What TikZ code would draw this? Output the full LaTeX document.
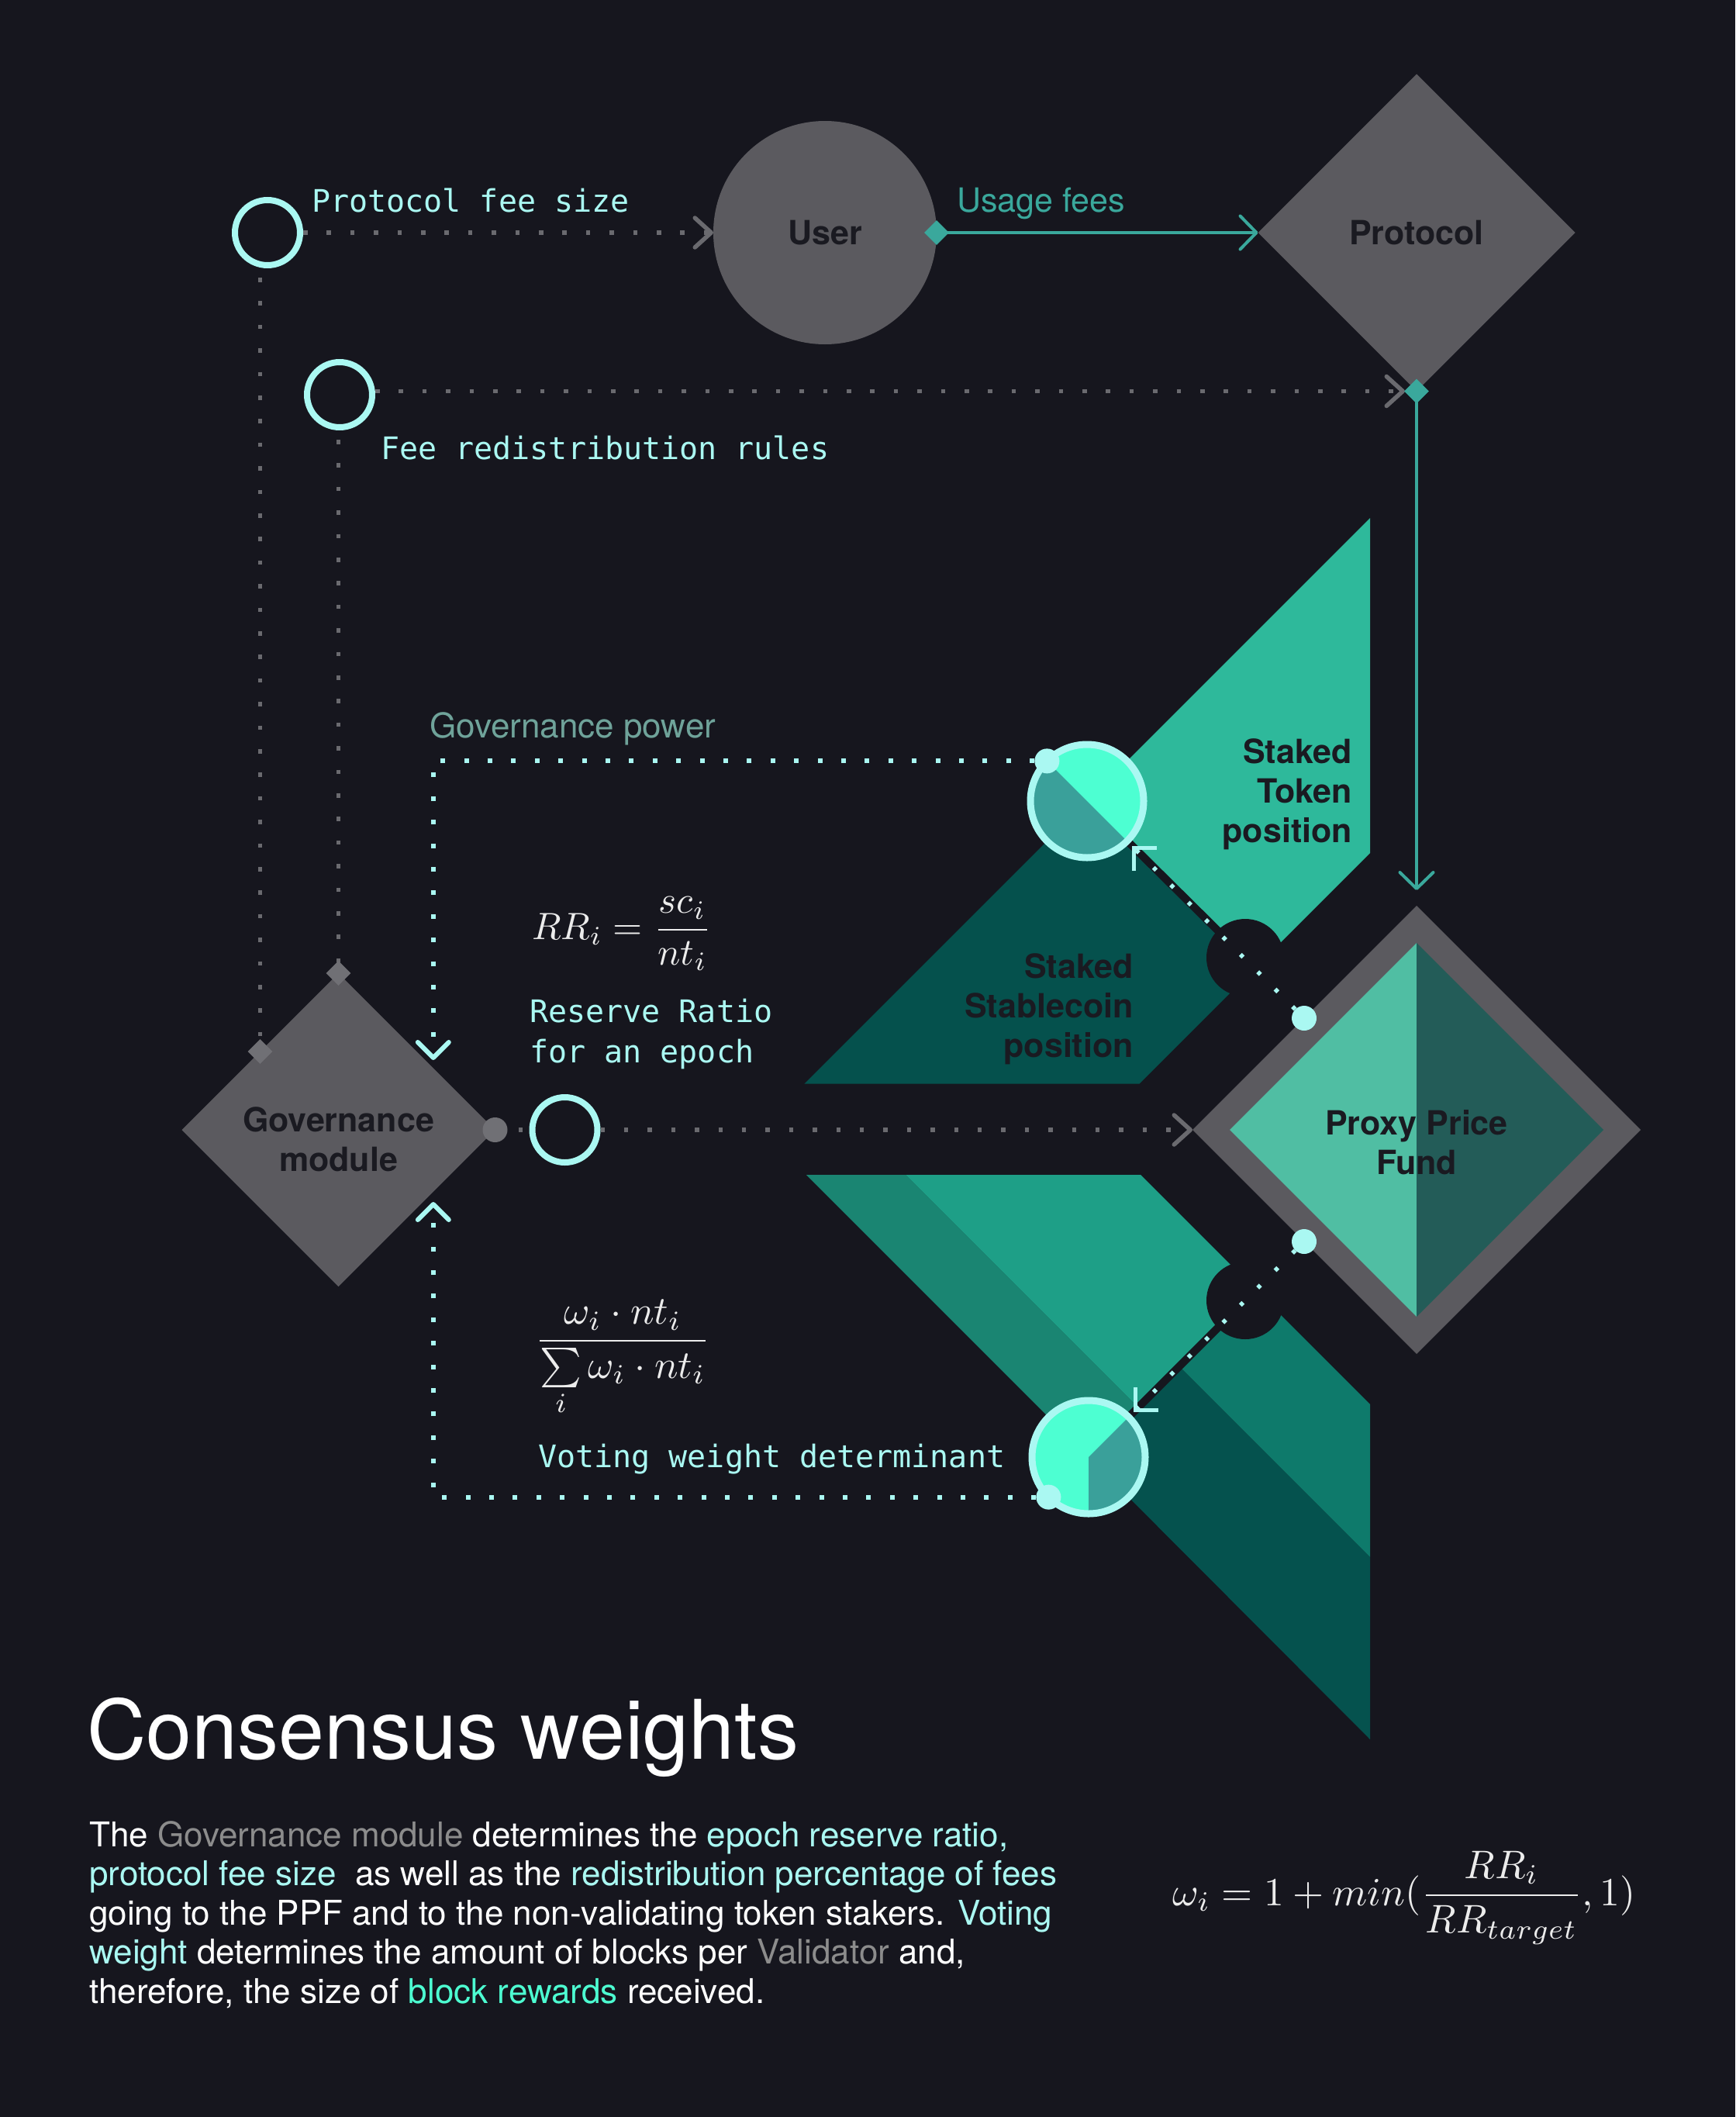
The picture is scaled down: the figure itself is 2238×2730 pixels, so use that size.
\documentclass[tikz,border=0pt]{standalone}
\usepackage[no-math]{fontspec}
\setmainfont{TeX Gyre Heros}
\newfontfamily\monof{DejaVu Sans Mono}
\usepackage{graphicx}
\usetikzlibrary{arrows.meta,shapes.geometric,calc}
\definecolor{bgc}{RGB}{22,22,30}
\definecolor{boxgray}{RGB}{91,90,95}
\definecolor{markgray}{RGB}{112,112,117}
\definecolor{dotgray}{RGB}{106,106,111}
\definecolor{darktxt}{RGB}{26,26,33}
\definecolor{cyanc}{RGB}{170,248,242}
\definecolor{tealc}{RGB}{58,168,156}
\definecolor{mintc}{RGB}{77,255,210}
\definecolor{halfteal}{RGB}{58,160,154}
\definecolor{tokenc}{RGB}{46,185,155}
\definecolor{stablec}{RGB}{5,81,77}
\definecolor{lowA}{RGB}{26,133,114}
\definecolor{lowB}{RGB}{30,159,135}
\definecolor{lowC}{RGB}{5,82,78}
\definecolor{lowD}{RGB}{14,122,107}
\definecolor{ppfL}{RGB}{80,190,163}
\definecolor{ppfR}{RGB}{35,92,88}
\definecolor{gptxt}{RGB}{111,163,154}
\definecolor{bodygray}{RGB}{140,140,140}
\definecolor{mathc}{RGB}{236,236,236}
\begin{document}
\begin{tikzpicture}[x=1pt,y=-1pt,
  graydot/.style={draw=dotgray,line width=5.5pt,dash pattern=on 5.5pt off 24.9pt},
  cyandot/.style={draw=cyanc,line width=6pt,dash pattern=on 6pt off 24.4pt},
  diagdot/.style={draw=cyanc,line width=5.5pt,dash pattern=on 5pt off 26.7pt},
  chevg/.style={-{Straight Barb[length=21pt,width=38pt,round]}},
  chevc/.style={-{Straight Barb[length=20pt,width=40pt,round]}},
  chevt/.style={-{Straight Barb[length=21pt,width=43pt,round]}},
  cornertip/.style={-{Straight Barb[length=21pt,width=42pt,line width=5pt]}},
  tealline/.style={draw=tealc,line width=4pt},
  ringnode/.style={circle,draw=cyanc,line width=8pt,fill=bgc,minimum size=84pt,inner sep=0pt,outer sep=4pt},
  bigring/.style={circle,draw=cyanc,line width=9pt,minimum size=146pt,inner sep=0pt,outer sep=8.5pt},
  dotnode/.style={circle,fill=cyanc,minimum size=32pt,inner sep=0pt},
  boldlab/.style={font=\bfseries\fontsize{43}{51}\selectfont,text=darktxt,inner sep=0pt},
  monolab/.style={font=\monof\fontsize{40}{52}\selectfont,text=cyanc,inner sep=0pt,anchor=base west},
  bodytxt/.style={font=\fontsize{44}{50.5}\selectfont,text=white,inner sep=0pt,anchor=base west},
  mathlab/.style={text=mathc,inner sep=0pt,anchor=base west},
  tmark/.style={diamond,fill=tealc,minimum size=32pt,inner sep=0pt},
  gmark/.style={diamond,fill=markgray,minimum size=32pt,inner sep=0pt},
  cutout/.style={circle,fill=bgc,minimum size=100pt,inner sep=0pt},
]
\fill[bgc] (0,0) rectangle (2238,2730);
\useasboundingbox (0,0) rectangle (2238,2730);

% ---- green position shapes (upper)
\fill[tokenc] (1767,668) -- (1767,1100) -- (1618,1249) -- (1402,1033) -- cycle;
\fill[stablec] (1402,1033) -- (1618,1249) -- (1469.4,1397.6) -- (1037.4,1397.6) -- cycle;
% ---- green shapes (lower)
\fill[lowA] (1040,1515) -- (1168.4,1515) -- (1467.2,1813.8) -- (1404,1879) -- cycle;
\fill[lowB] (1168.4,1515) -- (1471,1515) -- (1619,1663) -- (1467.2,1813.8) -- cycle;
\fill[lowD] (1619,1663) -- (1767,1811) -- (1767,2008) -- (1520,1761) -- cycle;
\fill[lowC] (1404,1879) -- (1520,1761) -- (1767,2008) -- (1767,2243) -- cycle;

% ---- cut-outs and dark bands
\coordinate (tokcen) at (1402,1033);
\coordinate (votcen) at (1404,1879);
\node[cutout] (cutN) at (1606,1235) {};
\node[cutout] (cutS) at (1606,1677) {};
\draw[bgc,line width=10pt] (tokcen) -- (cutN.center);
\draw[bgc,line width=10pt] (votcen) -- (cutS.center);

% ---- split circles
\fill[halfteal] (tokcen) circle[radius=73];
\fill[mintc] (tokcen) -- ++(-135:73) arc[start angle=-135,end angle=45,radius=73] -- cycle;
\node[bigring] (tokc) at (tokcen) {};
\fill[mintc] (votcen) circle[radius=73];
\fill[halfteal] (votcen) -- ++(-45:73) arc[start angle=-45,end angle=90,radius=73] -- cycle;
\node[bigring] (votc) at (votcen) {};
\node[dotnode] (tokdot) at ($(tokcen)+(225:73)$) {};
\node[dotnode] (votdot) at ($(votcen)+(135:73)$) {};

% ---- Proxy Price Fund
\node[diamond,fill=boxgray,minimum size=578pt,inner sep=0pt,outer sep=0pt] (ppf) at (1827,1457) {};
\fill[ppfL] ($(ppf.center)+(0,-241)$) -- ($(ppf.center)+(-241,0)$) -- ($(ppf.center)+(0,241)$) -- cycle;
\fill[ppfR] ($(ppf.center)+(0,-241)$) -- ($(ppf.center)+(241,0)$) -- ($(ppf.center)+(0,241)$) -- cycle;
\node[boldlab,align=center] (ppftxt) at (1827,1473) {Proxy Price\\Fund};
\node[dotnode] (pdN) at (1682,1313) {};
\node[dotnode] (pdS) at (1682,1601) {};
\draw[diagdot,cornertip] (pdN) -- (tokc);
\draw[diagdot,cornertip] (pdS) -- (votc);

% ---- main nodes
\node[circle,fill=boxgray,minimum size=288pt,outer sep=0pt,boldlab] (user) at (1064,300) {User};
\node[diamond,fill=boxgray,minimum size=409pt,outer sep=0pt,boldlab] (protocol) at (1827,300) {Protocol};
\node[diamond,fill=boxgray,minimum size=404pt,inner sep=0pt,outer sep=0pt] (gov) at (436.5,1457) {};
\node[boldlab,align=center] (govtxt) at (436.5,1469) {Governance\\module};

\node[ringnode] (c1) at (345,300) {};
\node[ringnode] (c2) at (438,509) {};
\node[ringnode] (c3) at (728.5,1457) {};

\coordinate (gpend) at (558.8,1367);
\coordinate (vwend) at (558.8,1550);

% ---- connectors
\draw[graydot,chevg] (c1) -- (user);
\draw[graydot,shorten <=12pt] (c1.south -| gov.north west) -- (gov.north west);
\draw[graydot,shorten <=12pt] (c2.south -| gov.north) -- (gov.north);
\draw[graydot,chevg,shorten >=15pt] (c2.east |- protocol.south) -- (protocol.south);
\draw[graydot] (gov.east) -- (c3);
\draw[graydot,chevg] (c3) -- (ppf.west);
\draw[tealline,chevt] (user) -- (protocol);
\draw[tealline,chevt,shorten >=20pt] (protocol.south) -- (ppf.north);
\draw[cyandot,chevc] (tokdot) -| (gpend);
\draw[cyandot,chevc] (votdot) -| (vwend);

% ---- markers
\node[tmark] (umark) at (user.east) {};
\node[tmark] (pmark) at (protocol.south) {};
\node[gmark] (gm1) at (gov.north west) {};
\node[gmark] (gm2) at (gov.north) {};
\node[circle,fill=markgray,minimum size=32pt,inner sep=0pt] (gdot) at (gov.east) {};

% ---- labels
\node[monolab] (lbl1) at (402,273.6) {Protocol fee size};
\node[monolab] (lbl2) at (491,592) {Fee redistribution rules};
\node[monolab] (lbl3) at (683,1318) {Reserve Ratio};
\node[monolab] (lbl4) at (683,1370) {for an epoch};
\node[monolab] (lbl5) at (694,1892) {Voting weight determinant};
\node[font=\fontsize{44}{52}\selectfont,text=gptxt,inner sep=0pt,anchor=base west] (lblgp) at (554,951) {Governance power};
\node[font=\fontsize{43}{52}\selectfont,text=tealc,inner sep=0pt,anchor=base west] (lbluf) at (1234,273) {Usage fees};
\node[boldlab,align=right,anchor=north east] (tokl) at (1744,952) {Staked\\Token\\position};
\node[boldlab,align=right,anchor=north east] (stbl) at (1462,1229) {Staked\\Stablecoin\\position};

% ---- formulas
\node[mathlab] (rrf) at (686,1211) {\scalebox{4.9}{$\displaystyle RR_i=\frac{sc_i}{nt_i}$}};
\node[mathlab] (vwf) at (690,1742) {\scalebox{5.1}{$\displaystyle\frac{\omega_i\cdot nt_i}{\sum\limits_i\omega_i\cdot nt_i}$}};
\node[mathlab] (wf) at (1512,2457) {\scalebox{5.15}{$\displaystyle\omega_i=1+min(\frac{RR_i}{RR_{target}},1)$}};

% ---- title and text
\node[font=\fontsize{106}{120}\selectfont,text=white,inner sep=0pt,anchor=base west] (title) at (112,2268) {Consensus weights};
\node[bodytxt] (b1) at (115,2381) {The \textcolor{bodygray}{Governance module} determines the \textcolor{cyanc}{epoch reserve ratio,}};
\node[bodytxt] (b2) at (115,2431.5) {\textcolor{cyanc}{protocol fee size}\ \ as well as the \textcolor{cyanc}{redistribution percentage of fees}};
\node[bodytxt] (b3) at (115,2482) {going to the PPF and to the non-validating token stakers. \textcolor{cyanc}{Voting}};
\node[bodytxt] (b4) at (115,2532.5) {\textcolor{cyanc}{weight} determines the amount of blocks per \textcolor{bodygray}{Validator} and,};
\node[bodytxt] (b5) at (115,2583) {therefore, the size of \textcolor{mintc}{block rewards} received.};
\end{tikzpicture}
\end{document}
